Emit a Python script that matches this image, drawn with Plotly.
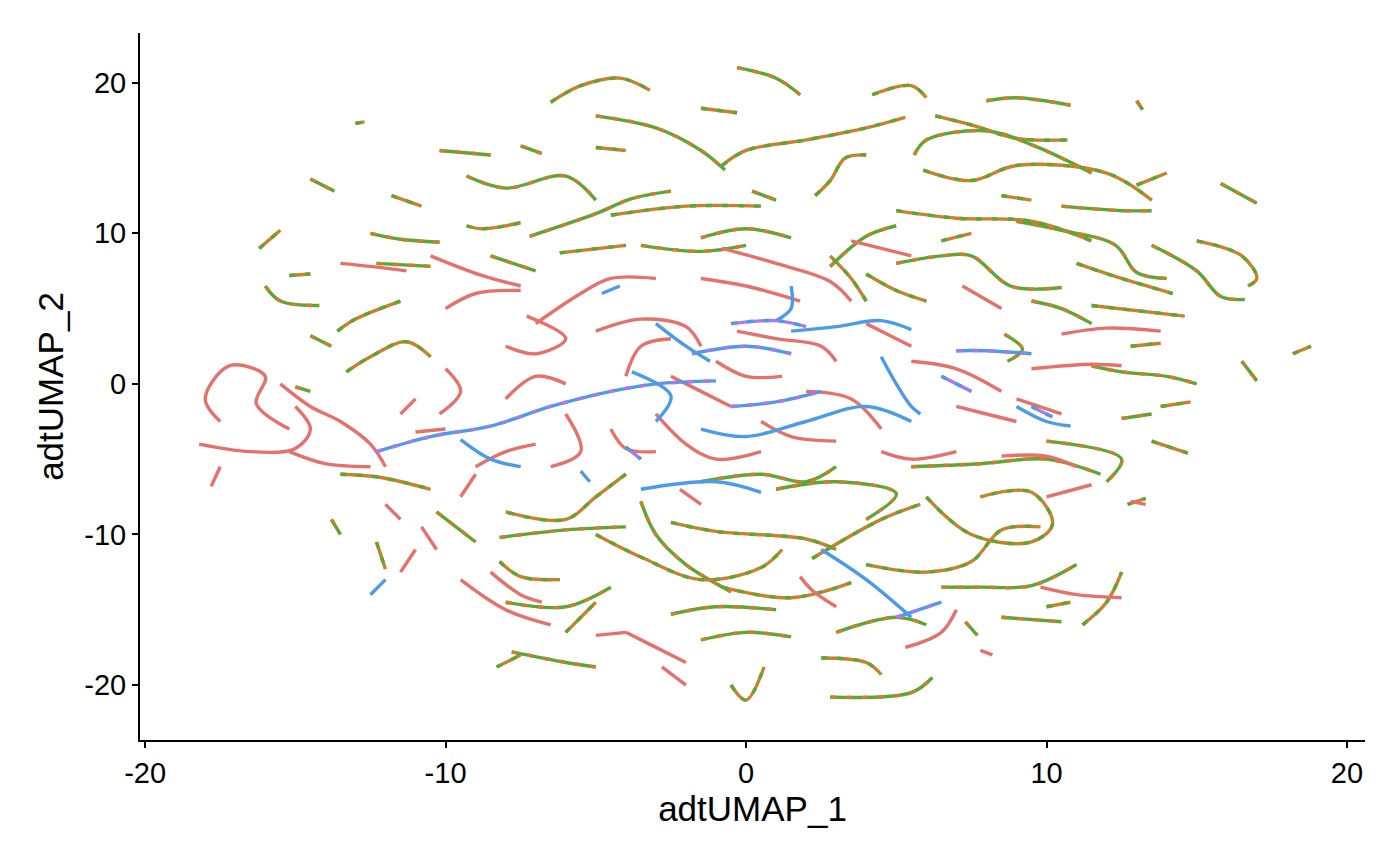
import plotly.graph_objects as go

# Strand control points (x, y in UMAP units)
mixed_strands = [
 [(-6.5,18.7),(-5.5,19.8),(-4.2,20.3),(-3.2,19.5)],
 [(-5,17.8),(-3,17),(-1.5,15.5),(-0.7,14.2)],
 [(-0.8,14.5),(0,15.5),(2,16.2),(4,17),(5.3,17.7)],
 [(-0.3,21),(1,20.3),(1.8,19.2)],
 [(-1.5,18.3),(-0.3,18)],
 [(-10.2,15.5),(-8.5,15.2)],
 [(-13,17.3),(-12.7,17.4)],
 [(-7.5,15.8),(-6.8,15.3)],
 [(-5,15.7),(-4,15.5)],
 [(-9.3,13.8),(-8,13),(-6,13.8),(-5,12.2)],
 [(-11.8,12.5),(-10.8,11.8)],
 [(-14.5,13.6),(-13.7,12.8)],
 [(-16.2,9),(-15.5,10.2)],
 [(-12.5,10),(-11.5,9.6),(-10.2,9.4)],
 [(-9.3,10.5),(-8.8,10.3),(-7.5,10.7)],
 [(-7.2,9.8),(-5,11.3),(-3.8,12.3),(-2.5,12.8)],
 [(2.3,12.5),(2.8,13.5),(3.3,15),(4,15.2)],
 [(0.2,12.8),(1,12.2)],
 [(4.2,19.2),(5.5,19.8),(6,19)],
 [(8,18.8),(9,19),(10.8,18.5)],
 [(6.3,17.8),(7.5,17.2),(9,16.3),(10.7,16.2)],
 [(5.6,15.2),(6,16.2),(8,16.8),(9.6,15.8),(11.5,14)],
 [(5.9,14.2),(7.5,13.5),(9,14.5),(12,14),(13.5,12.2)],
 [(13,18.8),(13.2,18.2)],
 [(13,13.2),(14,14)],
 [(15.8,13.3),(17,12)],
 [(8.5,12.5),(9.5,12.2)],
 [(10.5,11.8),(12.5,11.5),(13.5,11.5)],
 [(5,11.5),(7,11),(9.5,10.8),(11.5,9.5)],
 [(9,10.8),(10.5,10.2),(12.3,9.2),(13,7.4),(14,7)],
 [(15,9.5),(16.5,8.5),(17,7),(16.7,6.5)],
 [(13.5,9.2),(15,7.5),(15.8,5.8),(16.6,5.6)],
 [(11,8),(12.5,7),(14.2,6)],
 [(5,8),(6.5,8.5),(7.5,8.5),(8.8,6.5),(10.5,6.4)],
 [(11.5,5.2),(14.6,4.5)],
 [(9.5,5.5),(10.5,5),(11.5,4)],
 [(4,7.3),(5,6.2),(6,5.5)],
 [(2.8,7.8),(4,9.8),(5,10.5)],
 [(6.5,9.5),(7.5,10)],
 [(8.6,3.3),(9.2,2.3),(8.7,1.5)],
 [(12.8,2.5),(13.8,2.7)],
 [(16.5,1.5),(17,0.2)],
 [(18.2,2),(18.8,2.5)],
 [(11.5,1.2),(12.5,0.8),(14,0.5),(15,0)],
 [(13.8,-1.5),(14.8,-1.2)],
 [(12.5,-2.3),(13.5,-2)],
 [(13.5,-3.8),(14.7,-4.6)],
 [(10,-3.8),(12.5,-5),(12,-6.5)],
 [(12.7,-8),(13.3,-7.6)],
 [(-16,6.5),(-15.5,5.5),(-14.2,5.2)],
 [(-15.2,7.2),(-14.5,7.3)],
 [(-12.3,8),(-10.5,7.8)],
 [(-13.6,3.5),(-13,4.3),(-11.5,5.5)],
 [(-14.5,3.2),(-13.8,2.5)],
 [(-13.3,0.8),(-12.5,1.8),(-11.3,2.8),(-10.5,1.8)],
 [(-15,-0.2),(-14.5,-0.5)],
 [(-13.5,-6),(-12.2,-6.2),(-10.5,-7)],
 [(-13.8,-9),(-13.5,-10)],
 [(-12.3,-10.5),(-12,-12.3)],
 [(-10.3,-8.5),(-9,-10.5)],
 [(-8.2,-11.8),(-7.5,-12.8),(-6.2,-13)],
 [(-8,-14.5),(-6,-14.8),(-4.5,-13.5)],
 [(-8.3,-18.8),(-7.5,-18)],
 [(-7.8,-17.8),(-6,-18.5),(-5,-18.8)],
 [(-6,-16.5),(-5,-14.5)],
 [(-1.5,-17),(0,-16.5),(1.5,-16.8)],
 [(-0.5,-20),(0,-21),(0.6,-18.8)],
 [(2.8,-20.8),(5.5,-20.5),(6.2,-19.5)],
 [(2.5,-18.2),(4,-18.5),(4.5,-19.3)],
 [(3,-16.5),(5,-15.5),(6,-16)],
 [(4,-12),(6,-12.5),(7.5,-11.8),(8.5,-9.7),(9.8,-9.5)],
 [(6.5,-13.5),(7.8,-13.5),(9.5,-13.4),(11,-12)],
 [(10,-14.8),(10.8,-14.5)],
 [(7.3,-15.8),(7.7,-16.7)],
 [(11.2,-16),(12,-14.5),(12.5,-12.5)],
 [(8.5,-15.5),(10.5,-15.8)],
 [(6,-7.5),(7.5,-10),(9.5,-10.5),(10.2,-9.3),(9.5,-7.2),(7.8,-7.5)],
 [(5.5,-5.5),(7.8,-5.3),(10,-5),(11.8,-6)],
 [(2.2,-11.6),(4.5,-9),(5.8,-8)],
 [(1,-7),(3,-6.5),(5,-7.3),(4,-9)],
 [(-2.5,-9.2),(-1,-9.8),(2,-10.3),(3,-11)],
 [(-3.5,-7.8),(-3,-10),(-2,-12),(-0.5,-13.8)],
 [(-5,-10),(-3.5,-11.5),(-1.5,-13),(0.5,-12.2),(1.2,-11)],
 [(-1.5,-6.5),(0.5,-6),(2,-6.5),(3,-5.5)],
 [(-4,-6),(-5,-7.5),(-6,-9),(-8,-8.5)],
 [(-8.2,-10.2),(-6,-9.7),(-4,-9.5)],
 [(-0.8,-13.5),(1.5,-14.2),(3.5,-13.2)],
 [(-2.5,-15.3),(-1,-14.8),(1,-15)],
 [(-4.5,11.2),(-2,11.8),(0.5,11.8)],
 [(-3.5,9.2),(-1.5,8.8),(0,9.2)],
 [(-6.2,8.7),(-4,9.2)],
 [(-8.5,8.5),(-7,7.5)],
 [(4,5.5),(3.5,7),(2.8,8.5)],
 [(-1.5,9.7),(0,10.3),(1.5,9.7)],
]

red_strands = [
 [(-18.2,-4),(-16.5,-4.5),(-15,-4.3),(-14.5,-3),(-15,-1.5)],
 [(-17.8,-6.8),(-17.5,-5.5)],
 [(-17.5,-2.5),(-18,-1),(-17.2,1.2),(-16,0.5),(-16.3,-1.3),(-15.2,-3)],
 [(-15.5,0),(-14.5,-1.5),(-13.5,-2.5),(-12.5,-4),(-12,-5.5)],
 [(-15.2,-4.5),(-14,-5.3),(-12.5,-5.5)],
 [(-13.5,8),(-12.5,7.8),(-11.3,7.5)],
 [(-10.5,8.5),(-8.8,7.2),(-7.5,6.5)],
 [(-11,-3.2),(-10,-3)],
 [(-10.2,-2),(-9.5,-0.5),(-10,1)],
 [(-11.5,-2),(-11,-1)],
 [(-9.5,-7.5),(-9,-6)],
 [(-10.8,-9.5),(-10.3,-11)],
 [(-8.5,-12.5),(-7.5,-14),(-6.8,-14.5)],
 [(-9.5,-13),(-8,-15),(-6.5,-16)],
 [(-11.5,-12.5),(-11,-11)],
 [(-4,-16.5),(-3,-17.5),(-2,-18.5)],
 [(-2.8,-18.8),(-2,-20)],
 [(-5,-16.7),(-4,-16.5)],
 [(3,-14.8),(2.2,-13.7),(1.8,-12.8)],
 [(5.3,-17.5),(6.5,-16.5),(7,-15)],
 [(7.8,-17.7),(8.2,-18)],
 [(9.8,-13.5),(11,-14),(12.5,-14.2)],
 [(12.8,-7.8),(13.3,-8)],
 [(8.5,-4.8),(10,-4.8),(11,-5.5)],
 [(10,-7.5),(11.5,-6.7)],
 [(5.5,1.5),(7,1),(8.5,-0.5)],
 [(7,-1.5),(8,-2),(9,-2.5)],
 [(9.5,1),(11.5,1.3),(12.5,1.2)],
 [(9,-1),(10.5,-2)],
 [(8.5,5),(7.2,6.5)],
 [(10.5,3.3),(12,3.7),(13.8,3.5)],
 [(-0.8,9),(1,8),(2.8,6.8),(3.5,5.5)],
 [(-7,4),(-5.5,6),(-4.5,7),(-3,7)],
 [(-5,3.5),(-3.5,4.3),(-2,3.8),(-1.5,2.5)],
 [(-8,2.5),(-7,2),(-6,3),(-7.3,4.5)],
 [(-10,5),(-9,6),(-7.5,6.2)],
 [(-8,-1),(-7,0.5),(-6,0)],
 [(-4.5,-3),(-4,-4.3),(-3,-4.5)],
 [(-6,-2),(-5.5,-4.5),(-6.5,-5.5)],
 [(-3,-2),(-2,-4),(-1,-5),(0.5,-4.5)],
 [(-0.3,3.5),(1,3),(2.5,2.5),(3,1.5)],
 [(0.5,-2.5),(1.5,-3.5),(3,-3.8)],
 [(2,-0.5),(3.5,-1),(4.5,-3)],
 [(4,4),(5,3),(5.5,2.5)],
 [(-2.5,0.5),(-1.5,-0.5),(-0.5,-1.5)],
 [(-4,0.5),(-3.5,2.5),(-2.5,3)],
 [(-1,1.5),(0,0.5),(1.2,0.5)],
 [(4.5,-4.5),(5.5,-5),(7,-4.5)],
 [(-12,-8),(-11.5,-9)],
 [(-1.5,7),(0,6.5),(1.8,5.5)],
 [(3.5,9.5),(4.5,9),(5.5,8.5)],
 [(-9,-5.5),(-8,-4.5),(-7,-4)],
 [(-2.2,-7),(-1.5,-8)],
]

blue_strands = [
 [(-12.3,-4.5),(-10.5,-3.5),(-8.5,-2.8),(-6.5,-1.5),(-4.5,-0.5),(-3,0),(-1,0.2)],
 [(-4.8,6),(-4.2,6.5)],
 [(-9.5,-3.7),(-8.5,-5),(-7.5,-5.5)],
 [(-1.5,-3),(0,-3.5),(2,-2.5),(4,-1.5),(5.5,-2.5)],
 [(-1.8,2),(0,2.5),(1.5,2)],
 [(1.5,3.5),(3,3.8),(4.5,4.2),(5.5,3.6)],
 [(4.5,1.8),(5,0),(5.5,-1.5),(5.8,-2)],
 [(1.5,6.5),(1.5,5),(1,4.2)],
 [(7,2.2),(8,2.2),(9.5,2)],
 [(9,-1.5),(10,-2.5),(10.8,-2.8)],
 [(-3.5,-7),(-1,-6.5),(0.5,-7.2)],
 [(-5.5,-5.8),(-5.2,-6.5)],
 [(-0.5,-1.5),(1,-1.2),(2.5,-0.5)],
 [(-3,4),(-2,2.5),(-1.2,1.5)],
 [(-12.5,-14),(-12,-13)],
 [(2.5,-11),(4,-13),(5.5,-15.5)],
 [(5,-15.5),(6.5,-14.5)],
 [(-3.8,0.8),(-2.5,-0.8),(-3,-2.5)],
]

purple_strands = [
 [(-0.5,4),(1,4.2),(2,3.8)],
 [(9.5,-1.5),(10.2,-2.2)],
 [(-4,-4.2),(-3.5,-5)],
 [(6.5,0.5),(7.5,-0.5)],
]

tick_vals = [-20, -10, 0, 10, 20]
tick_text = ["-20", "-10", "0", "10", "20"]

RED, ORANGE, GREEN, BLUE, PURPLE = "#E5716A", "#C8822C", "#5DA634", "#4C9BE8", "#A47CF2"

fig = go.Figure()

def add(strand, base, over=None):
    xs = [p[0] for p in strand]; ys = [p[1] for p in strand]
    fig.add_trace(go.Scatter(x=xs, y=ys, mode="lines", line=dict(color=base, width=3.4, shape="spline"),
                             hoverinfo="skip", showlegend=False))
    if over:
        fig.add_trace(go.Scatter(x=xs, y=ys, mode="lines",
                                 line=dict(color=over, width=3.4, shape="spline", dash="6px,10px"),
                                 hoverinfo="skip", showlegend=False))

for i, s in enumerate(mixed_strands):
    if i % 2 == 0:
        add(s, ORANGE, GREEN)
    else:
        add(s, GREEN, ORANGE)
for s in red_strands:
    add(s, RED)
for i, s in enumerate(blue_strands):
    add(s, BLUE, PURPLE if i % 4 == 0 else None)
for s in purple_strands:
    add(s, PURPLE, BLUE)

axis = dict(showgrid=False, zeroline=False, showline=True, linecolor="black", linewidth=2,
            ticks="outside", ticklen=6, tickcolor="black", tickwidth=2, automargin=False,
            tickvals=tick_vals, ticktext=tick_text,
            tickfont=dict(size=29, color="black"), mirror=False)
fig.update_layout(
    width=1400, height=865, plot_bgcolor="white", paper_bgcolor="white",
    font=dict(family="Liberation Sans, Arial, sans-serif", color="black"),
    margin=dict(l=132, r=43, t=25, b=133),
    xaxis=dict(axis, range=[-20.17, 20.6],
               title=dict(text="adtUMAP_1", font=dict(size=35), standoff=6)),
    yaxis=dict(axis, range=[-23.65, 23.3],
               title=dict(text="adtUMAP_2", font=dict(size=35), standoff=10)),
)
fig.write_html("out.html")
